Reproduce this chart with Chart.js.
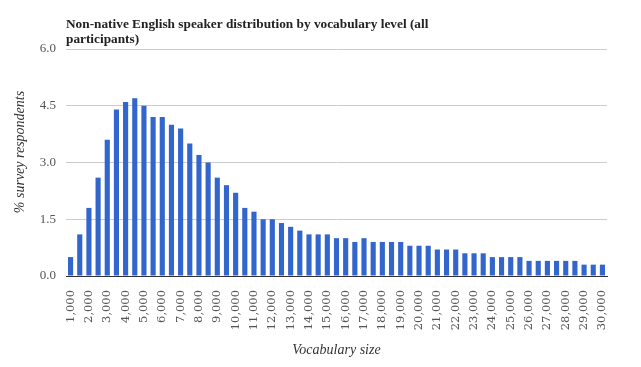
<!DOCTYPE html>
<html>
<head>
<meta charset="utf-8">
<script src="https://cdn.jsdelivr.net/npm/chart.js@4"></script>
<style>
  html, body { margin: 0; padding: 0; background: #fff; }
  #wrap { width: 641px; height: 367px; }
</style>
</head>
<body>
<div id="wrap"><canvas id="chart" width="641" height="367"></canvas></div>
<script>
// vocabulary size buckets (every 500 words)
const vocabSizes = [
  1000, 1500, 2000, 2500, 3000, 3500, 4000, 4500, 5000, 5500,
  6000, 6500, 7000, 7500, 8000, 8500, 9000, 9500, 10000, 10500,
  11000, 11500, 12000, 12500, 13000, 13500, 14000, 14500, 15000, 15500,
  16000, 16500, 17000, 17500, 18000, 18500, 19000, 19500, 20000, 20500,
  21000, 21500, 22000, 22500, 23000, 23500, 24000, 24500, 25000, 25500,
  26000, 26500, 27000, 27500, 28000, 28500, 29000, 29500, 30000
]
// % of survey respondents in each bucket
const respondentPct = [
  0.5, 1.1, 1.8, 2.6, 3.6, 4.4, 4.6, 4.7, 4.5, 4.2,
  4.2, 4.0, 3.9, 3.5, 3.2, 3.0, 2.6, 2.4, 2.2, 1.8,
  1.7, 1.5, 1.5, 1.4, 1.3, 1.2, 1.1, 1.1, 1.1, 1.0,
  1.0, 0.9, 1.0, 0.9, 0.9, 0.9, 0.9, 0.8, 0.8, 0.8,
  0.7, 0.7, 0.7, 0.6, 0.6, 0.6, 0.5, 0.5, 0.5, 0.5,
  0.4, 0.4, 0.4, 0.4, 0.4, 0.4, 0.3, 0.3, 0.3
]
const yTicks = [0, 1.5, 3.0, 4.5, 6.0]
const titleLines = ['Non-native English speaker distribution by vocabulary level (all', 'participants)']
const yTitle = '% survey respondents'

const serif = "'Liberation Serif', 'DejaVu Serif', serif"

// title left-aligned with the plot area, y-axis title a bit above centre
const textPlugin = {
  id: 'extraText',
  afterDraw(chart) {
    const ctx = chart.ctx
    ctx.save()
    ctx.fillStyle = '#222'
    ctx.font = 'bold 13.3px ' + serif
    ctx.textBaseline = 'alphabetic'
    titleLines.forEach((line, i) => {
      ctx.fillText(line, chart.chartArea.left, 28 + i * 15)
    })
    ctx.translate(24, 152)
    ctx.rotate(-Math.PI / 2)
    ctx.textAlign = 'center'
    ctx.fillStyle = '#333'
    ctx.font = 'italic 14px ' + serif
    ctx.fillText(yTitle, 0, 0)
    ctx.restore()
  }
}

new Chart(document.getElementById('chart'), {
  type: 'bar',
  data: {
    labels: vocabSizes,
    datasets: [{
      data: respondentPct,
      backgroundColor: '#3366cc',
      barPercentage: 0.56,
      categoryPercentage: 1.0
    }]
  },
  options: {
    responsive: false,
    animation: false,
    layout: { padding: { top: 49, right: 34, bottom: 8, left: 0 } },
    plugins: {
      legend: { display: false },
      tooltip: { enabled: false }
    },
    scales: {
      x: {
        afterFit: function (scale) { scale.height = 83 },
        grid: { display: false },
        border: { color: '#333', width: 1 },
        ticks: {
          autoSkip: false,
          minRotation: 90,
          maxRotation: 90,
          padding: 6,
          color: '#555',
          font: { family: "'DejaVu Serif', serif", size: 11.5 },
          callback: function (v, i) {
            return i % 2 === 0 ? vocabSizes[i].toLocaleString('en-US') : ''
          }
        },
        title: {
          display: true,
          text: 'Vocabulary size',
          color: '#333',
          font: { family: serif, size: 14, style: 'italic' },
          padding: { top: 2, bottom: 0 }
        }
      },
      y: {
        min: 0,
        max: 6,
        afterBuildTicks: function (scale) {
          scale.ticks = yTicks.map(v => ({ value: v }))
        },
        afterFit: function (scale) { scale.width = 66 },
        grid: { color: '#cccccc', drawTicks: false },
        border: { display: false },
        ticks: {
          padding: 10,
          color: '#555',
          font: { family: serif, size: 13 },
          callback: v => v.toFixed(1)
        }
      }
    }
  },
  plugins: [textPlugin]
})
</script>
</body>
</html>
